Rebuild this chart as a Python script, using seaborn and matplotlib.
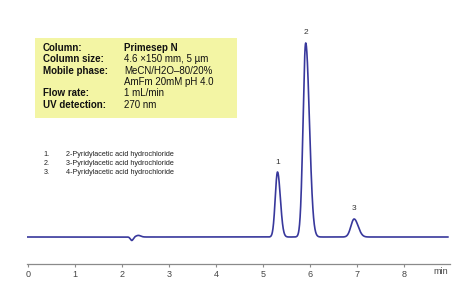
import numpy as np
import pandas as pd
import matplotlib
matplotlib.use("Agg")
import matplotlib.pyplot as plt
import seaborn as sns
from matplotlib.patches import Rectangle

# ---- data ----
peak_labels = ["1", "2", "3"]
peak_times = [5.31, 5.91, 6.94]          # min
peak_heights = [65.0, 194.0, 18.0]       # relative signal
peak_sigma_left = [0.048, 0.056, 0.068]
peak_sigma_right = [0.060, 0.078, 0.085]

# injection disturbance near 2.2 min
dist_times = [2.21, 2.35]
dist_heights = [-3.5, 1.6]
dist_sigma = [0.03, 0.05]

run_start, run_end = -0.03, 8.94
tick_values = [0, 1, 2, 3, 4, 5, 6, 7, 8]
tick_labels = ["0", "1", "2", "3", "4", "5", "6", "7", "8"]

info_keys = ["Column:", "Column size:", "Mobile phase:", "", "Flow rate:", "UV detection:"]
info_vals = ["Primesep N", "4.6 \u00d7150 mm, 5 \u00b5m", "MeCN/H2O\u201380/20%",
             "AmFm 20mM pH 4.0", "1 mL/min", "270 nm"]
compounds = ["2-Pyridylacetic acid hydrochloride",
             "3-Pyridylacetic acid hydrochloride",
             "4-Pyridylacetic acid hydrochloride"]

# ---- build trace ----
t = np.linspace(run_start, run_end, 3000)
signal = np.zeros_like(t)
for rt, h, sl, sr in zip(peak_times, peak_heights, peak_sigma_left, peak_sigma_right):
    s = np.where(t < rt, sl, sr)
    signal += h * np.exp(-0.5 * ((t - rt) / s) ** 2)
for rt, h, s in zip(dist_times, dist_heights, dist_sigma):
    signal += h * np.exp(-0.5 * ((t - rt) / s) ** 2)
df = pd.DataFrame({"time": t, "signal": signal})

sns.set_style("white")
plt.rcParams["font.family"] = ["Liberation Sans", "DejaVu Sans"]

fig = plt.figure(figsize=(4.74, 2.96), dpi=100)
ax = fig.add_axes([27 / 474, (296 - 264) / 296, 423 / 474, 234 / 296])

sns.lineplot(data=df, x="time", y="signal", ax=ax, color="#38389c", linewidth=1.2)

ax.set_xlim(-0.02, 8.98)
ax.set_ylim(-27, 207)
ax.set_xlabel("")
ax.set_ylabel("")
ax.set_yticks([])
ax.set_xticks(tick_values)
ax.set_xticklabels(tick_labels)
for sp in ["top", "right", "left"]:
    ax.spines[sp].set_visible(False)
ax.spines["bottom"].set_color("#8a8a8a")
ax.spines["bottom"].set_linewidth(0.9)
ax.tick_params(axis="x", direction="out", length=2.5, width=0.8, color="#8a8a8a",
               labelsize=6.5, labelcolor="#444444", pad=1.5, bottom=True)
fig.text(441 / 474, 1 - 272 / 296, "min", fontsize=6.5, color="#444444",
         ha="center", va="center")

# peak labels
for lab, rt, h in zip(peak_labels, peak_times, peak_heights):
    ax.text(rt, h + 10, lab, fontsize=6, color="#333333", ha="center", va="center")

# info box
fig.patches.append(Rectangle((35 / 474, 1 - 118 / 296), 202 / 474, 80 / 296,
                             transform=fig.transFigure, facecolor="#f3f5a4",
                             edgecolor="none", zorder=0))
row_y = [47.5, 59, 70.5, 82, 93.5, 105]
for k, v, y in zip(info_keys, info_vals, row_y):
    if k:
        fig.text(43 / 474, 1 - y / 296, k, fontsize=7, fontweight="bold",
                 color="#111111", ha="left", va="center")
    fig.text(124 / 474, 1 - y / 296, v, fontsize=7,
             fontweight="bold" if k == "Column:" else "normal",
             color="#111111", ha="left", va="center")

# compound list
list_y = [154.3, 163.5, 172.7]
for i, (name, y) in enumerate(zip(compounds, list_y)):
    fig.text(50 / 474, 1 - y / 296, f"{i + 1}.", fontsize=5.2, color="#222222",
             ha="right", va="center")
    fig.text(65.5 / 474, 1 - y / 296, name, fontsize=5.2, color="#222222",
             ha="left", va="center")

fig.savefig("out.png", dpi=100)
